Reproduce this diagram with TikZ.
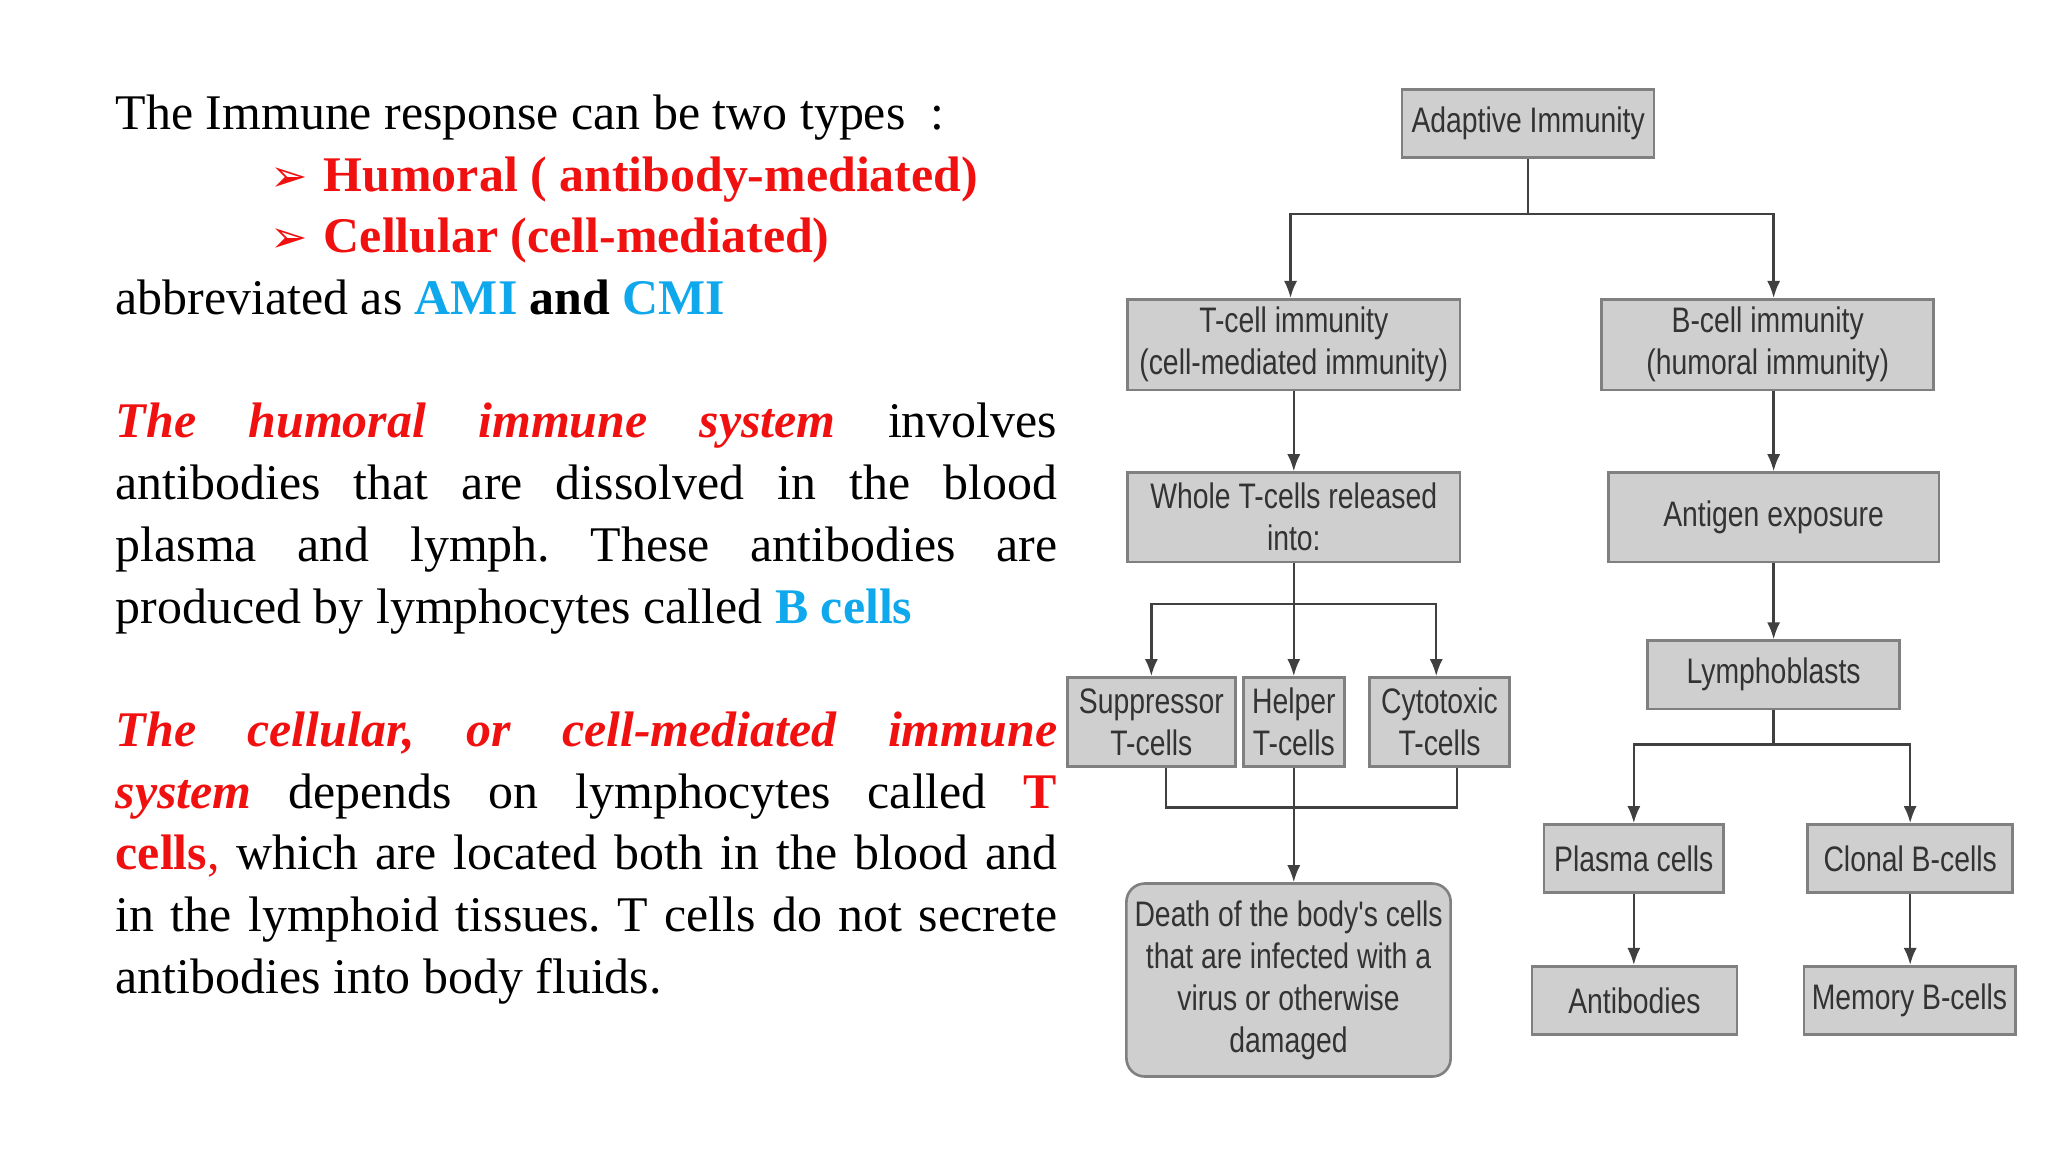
\documentclass[tikz,border=0pt]{standalone}
\usepackage{fontspec}
\usetikzlibrary{arrows.meta}
\setmainfont{Liberation Serif}
\newfontfamily\nar{Liberation Sans}[FakeStretch=0.8]
\newfontfamily\djsym{DejaVu Sans}
\definecolor{rd}{HTML}{F01010}
\definecolor{bl}{HTML}{10A8EC}
\definecolor{bx}{HTML}{CFCFCF}
\definecolor{bd}{HTML}{808080}
\begin{document}
\begin{tikzpicture}[x=1pt,y=-1pt,
 box/.style={draw=bd,line width=2pt,fill=bx,inner sep=0pt,align=center,font=\nar\fontsize{27}{32}\selectfont,text=black!80},
 ar/.style={line width=1.8pt,draw=black!75,-{Latex[length=13pt,width=10pt]}},
 ln/.style={line width=1.8pt,draw=black!75}]
\useasboundingbox (0,0) rectangle (1560,877.5);
% left text
\node[anchor=north west,inner sep=0pt,text width=717pt,align=justify,font=\frenchspacing\fontsize{38}{47}\selectfont] (txt) at (88,72) {%
The Immune response can be two types\ \ :\\
\hspace*{118pt}{\color{rd}\djsym\fontsize{34}{47}\selectfont ➢}\hspace{12pt}{\color{rd}\bfseries Humoral ( antibody-mediated)}\\
\hspace*{118pt}{\color{rd}\djsym\fontsize{34}{47}\selectfont ➢}\hspace{12pt}{\color{rd}\bfseries Cellular (cell-mediated)}\\
abbreviated as {\color{bl}\bfseries AMI} {\bfseries and} {\color{bl}\bfseries CMI}\\[47pt]
{\color{rd}\bfseries\itshape The humoral immune system} involves\linebreak
antibodies that are dissolved in the blood\linebreak
plasma and lymph. These antibodies are\linebreak
produced by lymphocytes called {\color{bl}\bfseries B cells}\\[47pt]
{\color{rd}\bfseries\itshape The cellular, or cell-mediated immune}\linebreak
{\color{rd}\bfseries\itshape system} depends on lymphocytes called {\color{rd}\bfseries T}\linebreak
{\color{rd}\bfseries cells}{\color{rd},} which are located both in the blood and\linebreak
in the lymphoid tissues. T cells do not secrete\linebreak
antibodies into body fluids.\par};
\begin{scope}[xshift=-5pt]
% boxes
\node[box,minimum width=192pt,minimum height=52pt] (ai) at (1169,94) {Adaptive Immunity};
\node[box,minimum width=253pt,minimum height=69pt] (tc) at (990.5,262.5) {T-cell immunity\\(cell-mediated immunity)};
\node[box,minimum width=253pt,minimum height=69pt] (bc) at (1351.5,262.5) {B-cell immunity\\(humoral immunity)};
\node[box,minimum width=253pt,minimum height=68pt] (wt) at (990.5,394) {Whole T-cells released\\into:};
\node[box,minimum width=252pt,minimum height=68pt] (ae) at (1356,394) {Antigen exposure};
\node[box,minimum width=192pt,minimum height=52pt] (ly) at (1356,514) {Lymphoblasts};
\node[box,minimum width=128pt,minimum height=68pt] (su) at (882,550) {Suppressor\\T-cells};
\node[box,minimum width=77pt,minimum height=68pt] (he) at (990.5,550) {Helper\\T-cells};
\node[box,minimum width=107pt,minimum height=68pt] (cy) at (1101.5,550) {Cytotoxic\\T-cells};
\node[box,rounded corners=14pt,minimum width=247pt,minimum height=147pt] (de) at (986.5,746.5) {Death of the body's cells\\that are infected with a\\virus or otherwise\\damaged};
\node[box,minimum width=137pt,minimum height=52pt] (pc) at (1249.5,654) {Plasma cells};
\node[box,minimum width=156pt,minimum height=52pt] (cb) at (1460,654) {Clonal B-cells};
\node[box,minimum width=156pt,minimum height=52pt] (ab) at (1250,762) {Antibodies};
\node[box,minimum width=161pt,minimum height=52pt] (mb) at (1459.5,762) {Memory B-cells};
% connectors
\coordinate (j1) at (1169,163);
\draw[ln] (ai.south) -- (j1);
\draw[ar] (j1) -| ([xshift=-2.5pt]tc.north);
\draw[ar] (j1) -| ([xshift=4.5pt]bc.north);
\draw[ar] (tc) -- (wt);
\draw[ar] ([xshift=4.5pt]bc.south) -- (ae.north);
\coordinate (j2) at (990.5,460);
\draw[ln] (wt.south) -- (j2);
\draw[ar] (j2) -| (su.north);
\draw[ar] (j2) -- (he.north);
\draw[ar] (j2) -| ([xshift=-2.5pt]cy.north);
\coordinate (j3) at (990.5,615);
\draw[ln] ([xshift=11pt]su.south) |- (j3) -| ([xshift=13.5pt]cy.south);
\draw[ar] (he.south) -- (de.north -| he.south);
\draw[ar] (ae) -- (ly);
\coordinate (j4) at (1356,567);
\draw[ln] (ly.south) -- (j4);
\draw[ar] (j4) -| (pc.north);
\draw[ar] (j4) -| (cb.north);
\draw[ar] (pc.south) -- (pc.south |- ab.north);
\draw[ar] (cb.south) -- (cb.south |- mb.north);
\end{scope}
\end{tikzpicture}
\end{document}
